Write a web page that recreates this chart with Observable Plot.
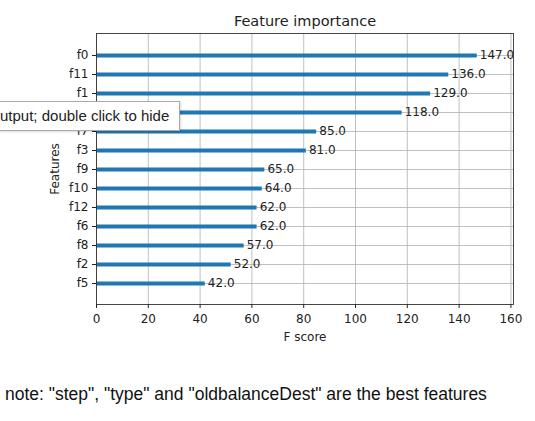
<!DOCTYPE html>
<html>
<head>
<meta charset="utf-8">
<script src="https://cdn.jsdelivr.net/npm/d3@7"></script>
<script src="https://cdn.jsdelivr.net/npm/@observablehq/plot@0.6"></script>
<style>
  html, body { margin: 0; padding: 0; background: #fff; width: 535px; height: 421px; overflow: hidden; position: relative; }
  #chart { position: absolute; left: 0; top: 0; }
  #note { position: absolute; left: 5px; top: 384px; font-family: "Liberation Sans", Arial, sans-serif; font-size: 17.5px; color: #111; white-space: nowrap; }
  #tip { position: absolute; left: -1px; top: 101px; width: 181px; height: 30px; box-sizing: border-box; background: #fff; border: 1px solid #a9a9a9; font-family: "Liberation Sans", Arial, sans-serif; font-size: 15px; line-height: 28px; color: #222; white-space: nowrap; padding-left: 0; box-shadow: 1px 1px 2px rgba(0,0,0,0.15); }
</style>
</head>
<body>
<div id="chart"></div>
<div id="tip">utput; double click to hide</div>
<div id="note">note: "step", "type" and "oldbalanceDest" are the best features</div>
<script>
const features = ["f0", "f11", "f1", "f4", "f7", "f3", "f9", "f10", "f12", "f6", "f8", "f2", "f5"];
const scores = [147, 136, 129, 118, 85, 81, 65, 64, 62, 62, 57, 52, 42];
const xTicks = [0, 20, 40, 60, 80, 100, 120, 140, 160];
const titleText = "Feature importance";
const xLabel = "F score";
const yLabel = "Features";

const data = features.map((f, i) => ({feature: f, score: scores[i]}));
const xMax = 161;
const font = "DejaVu Sans, sans-serif";

const svgPlot = Plot.plot({
  width: 535,
  height: 350,
  marginTop: 33,
  marginLeft: 96,
  marginRight: 22,
  marginBottom: 46,
  style: {fontFamily: font, fontSize: "12px", color: "#222", background: "#fff"},
  x: {domain: [0, xMax], ticks: xTicks, label: null},
  y: {type: "point", domain: features, padding: 0.95, label: null},
  marks: [
    Plot.gridX(xTicks, {stroke: "#b0b0b0", strokeOpacity: 1, strokeWidth: 0.8}),
    Plot.gridY(features, {stroke: "#b0b0b0", strokeOpacity: 1, strokeWidth: 0.8}),
    Plot.ruleY(data, {y: "feature", x1: 0, x2: "score", stroke: "#1f77b4", strokeWidth: 4}),
    Plot.text(data, {y: "feature", x: d => d.score + 1, text: d => d.score.toFixed(1), textAnchor: "start", fontSize: 12, fill: "#222"}),
    Plot.frame({stroke: "#333", strokeWidth: 0.9}),
    Plot.axisX(xTicks, {anchor: "bottom", tickSize: 4, tickPadding: 6, fontSize: 12, label: null, tickFormat: d => String(d)}),
    Plot.axisY({anchor: "left", tickSize: 4, tickPadding: 4, fontSize: 12, label: null}),
    Plot.text([xLabel], {frameAnchor: "bottom", dy: 36, fontSize: 12, fill: "#222"}),
    Plot.text([yLabel], {frameAnchor: "left", textAnchor: "middle", dx: -41, rotate: -90, fontSize: 12, fill: "#222"}),
    Plot.text([titleText], {frameAnchor: "top", dy: -18, fontSize: 14.5, fill: "#222"})
  ]
});
document.getElementById("chart").appendChild(svgPlot);
</script>
</body>
</html>
